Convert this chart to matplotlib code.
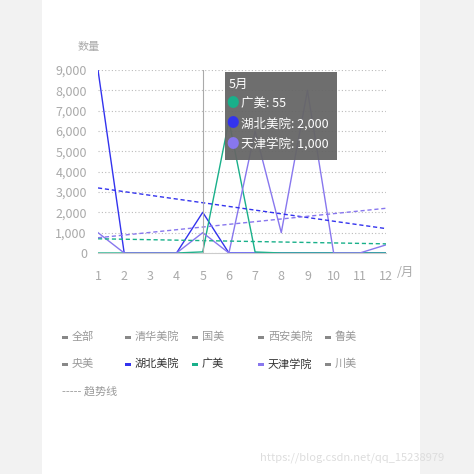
import matplotlib
matplotlib.use("Agg")
import matplotlib.pyplot as plt
import numpy as np
from matplotlib.patches import Rectangle
plt.rcParams['font.family'] = ['Noto Sans CJK SC', 'DejaVu Sans']

months = list(range(1, 13))
hubei = [9000, 0, 0, 0, 2000, 0, 0, 0, 0, 0, 0, 0]
guangmei = [0, 0, 0, 0, 55, 6500, 50, 0, 0, 0, 0, 0]
tianjin = [1000, 0, 0, 0, 1000, 0, 6000, 1000, 8000, 0, 0, 400]
hubei_trend = [3200, 1200]
guangmei_trend = [700, 450]
tianjin_trend = [750, 2200]
yticks = [0, 1000, 2000, 3000, 4000, 5000, 6000, 7000, 8000, 9000]
legend_row1 = ['全部', '清华美院', '国美', '西安美院', '鲁美']
legend_row2 = ['央美', '湖北美院', '广美', '天津学院', '川美']
legend_colors2 = ['#888888', '#3333ee', '#19b08a', '#8877ee', '#888888']

C_HB, C_GM, C_TJ = '#3333ee', '#19b08a', '#8877ee'
fig = plt.figure(figsize=(4.74, 4.74), dpi=100)
fig.patch.set_facecolor('#f2f2f2')
fig.add_artist(Rectangle((42/474, 0), (420-42)/474, 1, transform=fig.transFigure,
                         facecolor='white', edgecolor='none', zorder=0))
ax = fig.add_axes([98/474, 1-253/474, (386-98)/474, (253-70)/474])
ax.set_facecolor('none')
ax.plot(months, hubei, color=C_HB, lw=1)
ax.plot(months, guangmei, color=C_GM, lw=1)
ax.plot(months, tianjin, color=C_TJ, lw=1)
ax.plot([1, 12], hubei_trend, color=C_HB, lw=1, ls=(0, (3, 2)))
ax.plot([1, 12], guangmei_trend, color=C_GM, lw=1, ls=(0, (3, 2)))
ax.plot([1, 12], tianjin_trend, color=C_TJ, lw=1, ls=(0, (3, 2)))
ax.axvline(5, color='#aaaaaa', lw=0.8)
ax.set_xlim(1, 12)
ax.set_ylim(0, 9000)
ax.set_yticks(yticks)
ax.set_yticklabels([f'{v:,}' for v in yticks])
ax.set_xticks(months)
ax.grid(axis='y', color='#bbbbbb', ls=(0, (1, 2)), lw=0.8)
for s in ['top', 'right', 'left']:
    ax.spines[s].set_visible(False)
ax.spines['bottom'].set_color('#cccccc')
ax.tick_params(length=0, colors='#aaaaaa', labelsize=9, pad=8)
ax.tick_params(axis='x', pad=12)
ax.set_clip_on(False)
fig.text(78/474, 1-50/474, '数量', color='#aaaaaa', fontsize=8)
fig.text(397/474, 1-272/474, '/月', color='#aaaaaa', fontsize=9, va='center')

# tooltip
tx, ty = 225/474, 1-72/474
fig.add_artist(Rectangle((tx, 1-160/474), (337-225)/474, (160-72)/474, transform=fig.transFigure,
                         facecolor='#666666', edgecolor='none', alpha=0.95, zorder=5))
fig.text(229/474, 1-84/474, '5月', color='white', fontsize=9, va='center', zorder=6)
for i, (lab, c) in enumerate([('广美: 55', C_GM), ('湖北美院: 2,000', C_HB), ('天津学院: 1,000', C_TJ)]):
    y = 1-(104+20*i)/474
    fig.text(233/474, y, '●', color=c, fontsize=9, va='center', ha='center', zorder=6)
    fig.text(241/474, y, lab, color='white', fontsize=9, va='center', zorder=6)

xs = [62, 125, 192, 258, 325]
for i in range(5):
    for row, labels, cols, yy in [(0, legend_row1, ['#888888']*5, 337), (1, legend_row2, legend_colors2, 364)]:
        fig.add_artist(Rectangle(((xs[i])/474, 1-(yy+1.5)/474), 6/474, 3/474, transform=fig.transFigure,
                                 facecolor=cols[i], edgecolor='none'))
        tc = '#333333' if cols[i] != '#888888' else '#999999'
        fig.text((xs[i]+10)/474, 1-yy/474, labels[i], color=tc, fontsize=8, va='center')
fig.text(62/474, 1-391/474, '----- 趋势线', color='#999999', fontsize=8, va='center')
fig.text(260/474, 1-458/474, 'https://blog.csdn.net/qq_15238979', color='#dddddd', fontsize=8, va='center')
fig.savefig('out.png', dpi=100, facecolor=fig.get_facecolor())
